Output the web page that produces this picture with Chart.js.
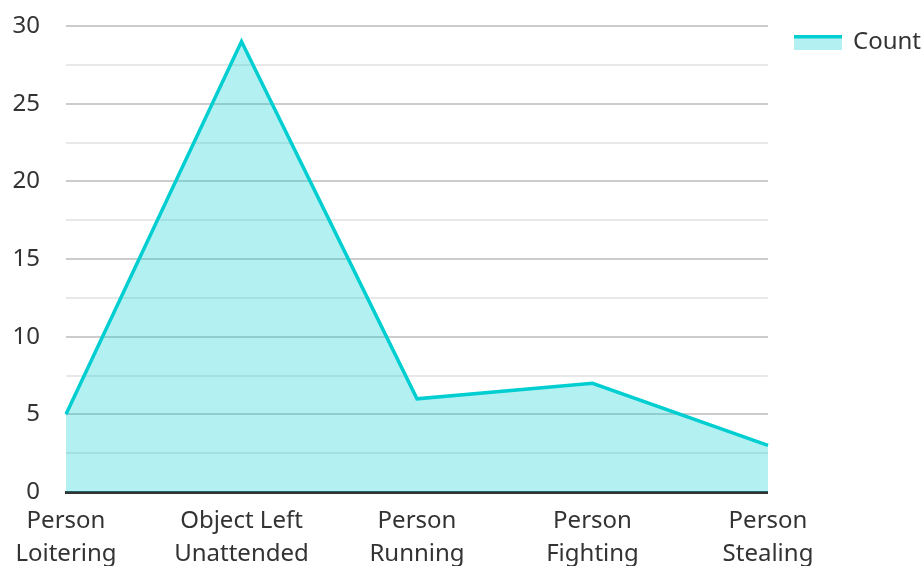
<!DOCTYPE html>
<html>
<head>
<meta charset="utf-8">
<script src="https://cdn.jsdelivr.net/npm/chart.js@4/dist/chart.umd.min.js"></script>
<style>
  html, body { margin: 0; padding: 0; background: #fff; overflow: hidden; }
  #wrap { width: 923px; height: 600px; position: relative; }
</style>
</head>
<body>
<div id="wrap"><canvas id="c"></canvas></div>
<script>
// Incident categories (multi-line labels) and their counts
const categories = [
  ["Person", "Loitering"],
  ["Object Left", "Unattended"],
  ["Person", "Running"],
  ["Person", "Fighting"],
  ["Person", "Stealing"]
];
const counts = [5, 29, 6, 7, 3];
const seriesName = "Count";
const yMax = 30;
const yStep = 2.5;

const lineColor = "#00CED1";
const fillColor = "rgba(0, 206, 209, 0.3)";
const textColor = "#333333";
const fontFamily = "'Noto Sans', 'Open Sans', sans-serif";

// Legend swatch: a solid line on top of the area fill
const swatch = document.createElement("canvas");
swatch.width = 48; swatch.height = 15;
(function () {
  const g = swatch.getContext("2d");
  g.fillStyle = fillColor;
  g.fillRect(0, 4, 48, 11);
  g.fillStyle = lineColor;
  g.fillRect(0, 0, 48, 4);
})();

// Lift the legend so it sits level with the top of the plot
const legendLift = {
  id: "legendLift",
  afterLayout(chart) {
    if (chart.legend) {
      chart.legend.top -= 23;
      chart.legend.bottom -= 23;
    }
  }
};

new Chart(document.getElementById("c"), {
  type: "line",
  data: {
    labels: categories,
    datasets: [{
      label: seriesName,
      data: counts,
      borderColor: lineColor,
      backgroundColor: fillColor,
      borderWidth: 3.5,
      fill: "origin",
      tension: 0,
      pointRadius: 0,
      pointHoverRadius: 0,
      pointStyle: swatch
    }]
  },
  plugins: [legendLift],
  options: {
    responsive: true,
    maintainAspectRatio: false,
    animation: false,
    layout: { padding: { top: 26, right: -8, left: 0, bottom: 0 } },
    plugins: {
      tooltip: { enabled: false },
      legend: {
        position: "right",
        align: "start",
        labels: {
          usePointStyle: true,
          pointStyleWidth: 46,
          color: textColor,
          font: { family: fontFamily, size: 24 },
          padding: 27
        }
      }
    },
    scales: {
      x: {
        offset: false,
        grid: { display: false, drawTicks: false },
        border: { display: true, color: "#333333", width: 3 },
        ticks: {
          color: textColor,
          font: { family: fontFamily, size: 24, lineHeight: 1.36 },
          padding: 13,
          maxRotation: 0,
          autoSkip: false
        },
        afterFit(scale) { scale.height = 108; }
      },
      y: {
        min: 0,
        max: yMax,
        border: { display: false },
        grid: {
          drawTicks: false,
          lineWidth: 2,
          color(ctx) {
            const v = ctx.tick ? ctx.tick.value : 0;
            return (v % 5 === 0) ? "rgba(0,0,0,0.2)" : "rgba(0,0,0,0.09)";
          }
        },
        ticks: {
          stepSize: yStep,
          color: textColor,
          font: { family: fontFamily, size: 24 },
          padding: 26,
          callback(v) { return v % 5 === 0 ? v : ""; }
        },
        afterFit(scale) { scale.width = 66; scale.paddingTop = 0; }
      }
    }
  }
});
</script>
</body>
</html>
